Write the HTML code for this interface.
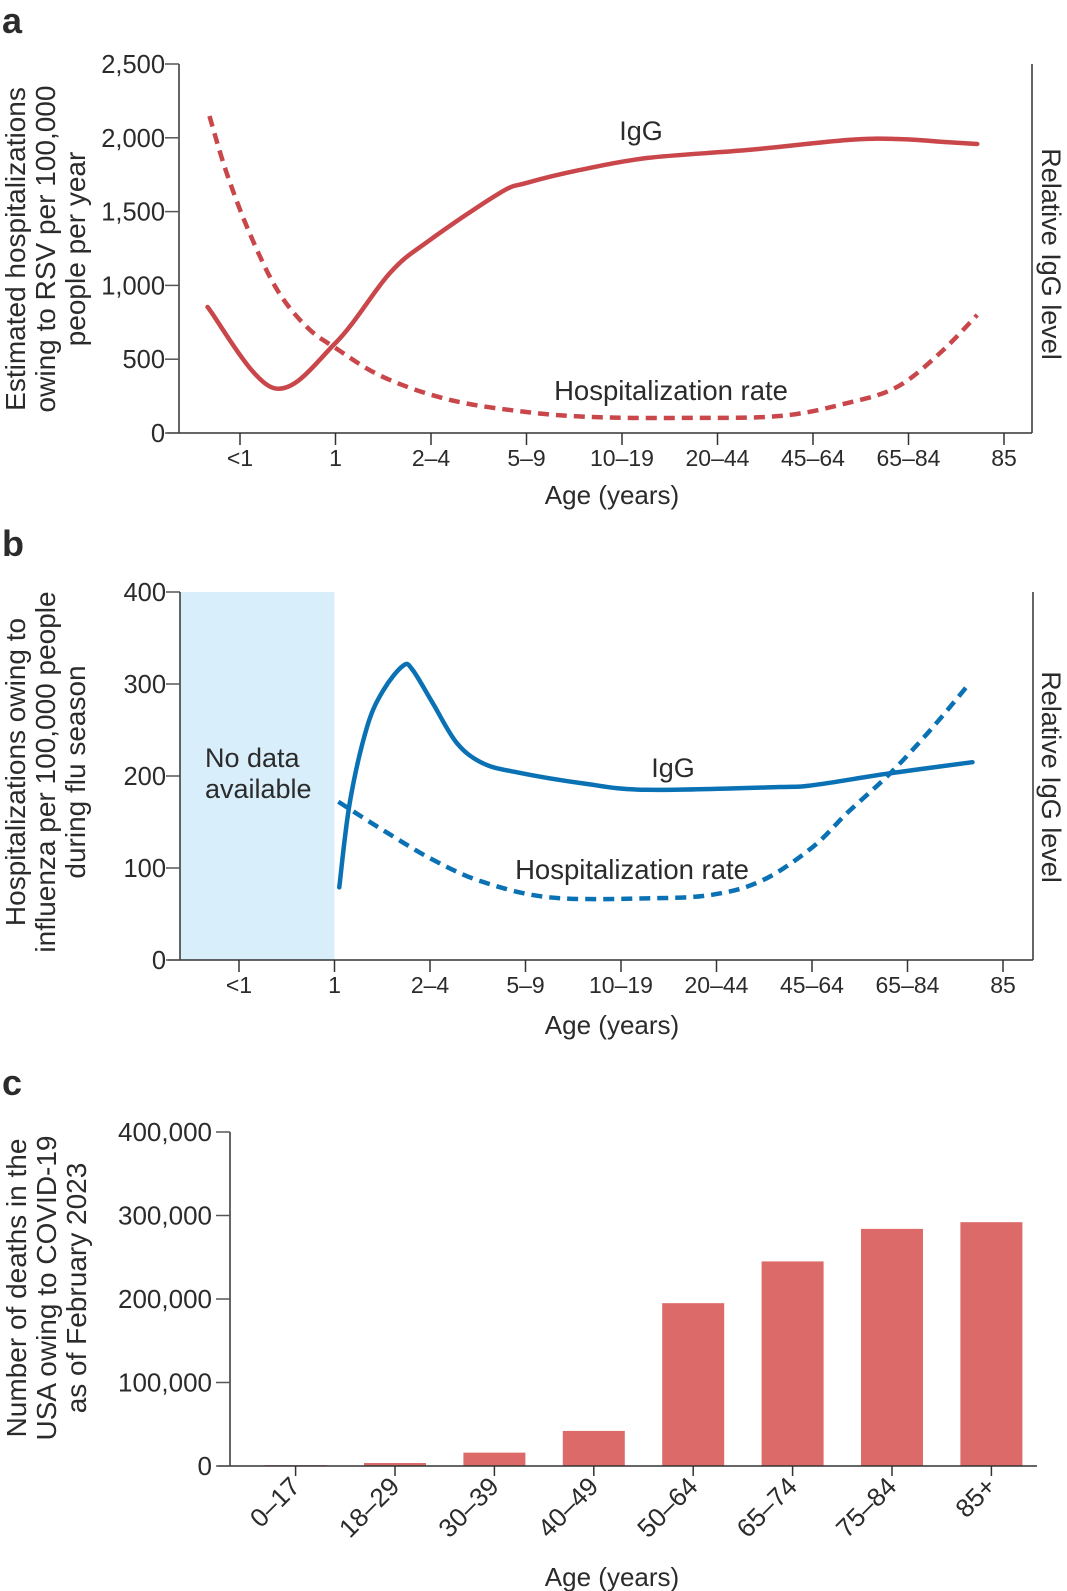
<!DOCTYPE html>
<html><head><meta charset="utf-8">
<style>
html,body{margin:0;padding:0;background:#fff;}
svg{display:block;font-family:"Liberation Sans",sans-serif;}
text{fill:#2b2b2b;}
</style></head>
<body>
<svg id="fig" width="1067" height="1591" viewBox="0 0 1067 1591" xmlns="http://www.w3.org/2000/svg">
<text x="2" y="33" font-size="36" font-weight="bold">a</text>
<text x="2" y="556" font-size="36" font-weight="bold">b</text>
<text x="2" y="1095" font-size="36" font-weight="bold">c</text>
<g id="ga"></g>
<g id="gb"></g>
<g id="gc"></g>
</svg>
<script>
// shared age categories (panels a, b)
const ageCats = ["<1","1","2–4","5–9","10–19","20–44","45–64","65–84","85"];
// Panel a (RSV): [age index position, value]
const rsvTicks = [0,500,1000,1500,2000,2500];
const rsvIgG = [[-0.34,854],[0.35,305],[1.0,610],[1.57,1084],[1.99,1308],[2.72,1626],[3.0,1694],[3.56,1782],[4.26,1863],[5.31,1917],[6.36,1985],[6.88,1992],[7.40,1971],[7.72,1958]];
const rsvHosp = [[-0.32,2148],[-0.14,1762],[0.10,1355],[0.39,969],[0.70,718],[1.0,576],[1.5,379],[2.2,224],[3.0,142],[3.70,108],[4.61,102],[5.65,115],[6.36,203],[6.88,312],[7.33,542],[7.72,800]];
// Panel b (influenza)
const fluTicks = [0,100,200,300,400];
const fluIgG = [[1.05,79],[1.16,171],[1.34,253],[1.51,293],[1.72,320],[1.82,315],[2.03,279],[2.28,236],[2.55,214],[2.91,204],[3.60,192],[4.27,185],[5.66,188],[6.01,190],[6.82,203],[7.68,215]];
const fluHosp = [[1.04,172],[1.51,141],[2.03,109],[2.55,85],[3.26,68],[4.27,67],[4.96,71],[5.49,87],[6.01,123],[6.37,160],[6.82,203],[7.24,250],[7.62,297]];
// Panel c (COVID-19 deaths)
const covidCats = ["0–17","18–29","30–39","40–49","50–64","65–74","75–84","85+"];
const covidDeaths = [1000,3600,16000,42000,195000,245000,284000,292000];
const covidTicks = [0,100000,200000,300000,400000];
const covidTickLabels = ["0","100,000","200,000","300,000","400,000"];

const NS="http://www.w3.org/2000/svg";
function mk(parent,tag,attrs,txt){const e=document.createElementNS(NS,tag);for(const k in attrs)e.setAttribute(k,attrs[k]);if(txt!==undefined)e.textContent=txt;parent.appendChild(e);return e;}
function smooth(pts){
  let d="M"+pts[0][0]+","+pts[0][1];
  for(let i=0;i<pts.length-1;i++){
    const p0=pts[Math.max(0,i-1)],p1=pts[i],p2=pts[i+1],p3=pts[Math.min(pts.length-1,i+2)];
    const c1=[p1[0]+(p2[0]-p0[0])/6,p1[1]+(p2[1]-p0[1])/6];
    const c2=[p2[0]-(p3[0]-p1[0])/6,p2[1]-(p3[1]-p1[1])/6];
    d+="C"+c1[0]+","+c1[1]+" "+c2[0]+","+c2[1]+" "+p2[0]+","+p2[1];
  }
  return d;
}
function rotText(g,x,y,lines,rot,name,fs){
  fs=fs||28;
  const t=mk(g,"text",{transform:`translate(${x},${y}) rotate(${rot})`,"text-anchor":"middle","font-size":fs});
  
  
  lines.forEach((l,i)=>{mk(t,"tspan",{x:0,dy:i===0?-(lines.length-1)*15+9:30},l);});
}
function linePanel(g,cfg){
  const {x0,x1,y0,yTop,vmax,t0,tStep,ticks,tickFmt,color,igg,hosp,prefix}=cfg;
  const X=t=>t0+t*tStep, Y=v=>y0-(v/vmax)*(y0-yTop);
  if(cfg.shade){const r=mk(g,"rect",{x:x0,y:yTop,width:X(1)-x0,height:y0-yTop,fill:"#d9eefb"});
    }
  let a=mk(g,"line",{x1:x0,y1:yTop,x2:x0,y2:y0,stroke:"#333","stroke-width":1.5});
  
  a=mk(g,"line",{x1:x0-12,y1:y0,x2:x1,y2:y0,stroke:"#333","stroke-width":1.5});
  
  a=mk(g,"line",{x1:x1,y1:yTop,x2:x1,y2:y0,stroke:"#333","stroke-width":1.5});
  
  ticks.forEach(v=>{
    mk(g,"line",{x1:x0-14,y1:Y(v),x2:x0,y2:Y(v),stroke:"#555","stroke-width":1.5});
    const t=mk(g,"text",{x:x0-14,y:Y(v)+9,"text-anchor":"end","font-size":"25.5"},tickFmt(v));
    
  });
  ageCats.forEach((c,i)=>{
    mk(g,"line",{x1:X(i),y1:y0,x2:X(i),y2:y0+12,stroke:"#333","stroke-width":1.5});
    const t=mk(g,"text",{x:X(i),y:y0+33,"text-anchor":"middle","font-size":"23"},c);
    
  });
  let p=mk(g,"path",{d:smooth(hosp.map(q=>[X(q[0]),Y(q[1])])),fill:"none",stroke:color,"stroke-width":4.5,"stroke-dasharray":"11,7"});
  
  p=mk(g,"path",{d:smooth(igg.map(q=>[X(q[0]),Y(q[1])])),fill:"none",stroke:color,"stroke-width":4.5,"stroke-linecap":"round"});
  
}
const fmt=v=>v.toLocaleString("en-US");
// Panel a
const ga=document.getElementById("ga");
linePanel(ga,{x0:179,x1:1032,y0:433,yTop:64,vmax:2500,t0:240,tStep:95.5,ticks:rsvTicks,tickFmt:fmt,color:"#c9474a",igg:rsvIgG,hosp:rsvHosp,prefix:"rsv"});
let t=mk(ga,"text",{x:641,y:140,"text-anchor":"middle","font-size":"27"},"IgG");

t=mk(ga,"text",{x:671,y:400,"text-anchor":"middle","font-size":"27.5"},"Hospitalization rate");

t=mk(ga,"text",{x:612,y:504,"text-anchor":"middle","font-size":"26"},"Age (years)");

rotText(ga,46,249,["Estimated hospitalizations","owing to RSV per 100,000","people per year"],-90,"rsv-y-axis-title");
rotText(ga,1051,254,["Relative IgG level"],90,"rsv-right-axis-title",27);
// Panel b
const gb=document.getElementById("gb");
linePanel(gb,{x0:180,x1:1033,y0:960,yTop:592,vmax:400,t0:239,tStep:95.5,ticks:fluTicks,tickFmt:fmt,color:"#0a72b4",igg:fluIgG,hosp:fluHosp,prefix:"flu",shade:true});
t=mk(gb,"text",{x:205,y:767,"font-size":"27"},"No data");

t=mk(gb,"text",{x:205,y:798,"font-size":"27"},"available");

t=mk(gb,"text",{x:673,y:777,"text-anchor":"middle","font-size":"27"},"IgG");

t=mk(gb,"text",{x:632,y:879,"text-anchor":"middle","font-size":"27.5"},"Hospitalization rate");

t=mk(gb,"text",{x:612,y:1034,"text-anchor":"middle","font-size":"26"},"Age (years)");

rotText(gb,46,772,["Hospitalizations owing to","influenza per 100,000 people","during flu season"],-90,"flu-y-axis-title");
rotText(gb,1051,777,["Relative IgG level"],90,"flu-right-axis-title",27);
// Panel c
const gc=document.getElementById("gc");
(function(){
  const x0=230,x1=1037,y0=1466,yTop=1132,vmax=400000,c0=295.6,step=99.4,bw=62;
  const X=i=>c0+i*step, Y=v=>y0-(v/vmax)*(y0-yTop);
  covidCats.forEach((c,i)=>{
    const h=y0-Y(covidDeaths[i]);
    const r=mk(gc,"rect",{x:X(i)-bw/2,y:Y(covidDeaths[i]),width:bw,height:h,fill:"#dc6a69"});
    
    
    mk(gc,"line",{x1:X(i),y1:y0,x2:X(i),y2:y0+10,stroke:"#333","stroke-width":1.5});
    const t=mk(gc,"text",{transform:`translate(${X(i)+6},${y0+22}) rotate(-45)`,"text-anchor":"end","font-size":"26"},c);
    
    
  });
  let a=mk(gc,"line",{x1:x0,y1:yTop,x2:x0,y2:y0,stroke:"#333","stroke-width":1.5});
  
  a=mk(gc,"line",{x1:x0-12,y1:y0,x2:x1,y2:y0,stroke:"#333","stroke-width":1.5});
  
  covidTicks.forEach((v,i)=>{
    mk(gc,"line",{x1:x0-14,y1:Y(v),x2:x0,y2:Y(v),stroke:"#555","stroke-width":1.5});
    const t=mk(gc,"text",{x:x0-18,y:Y(v)+9,"text-anchor":"end","font-size":"26"},covidTickLabels[i]);
    
    
  });
})();
t=mk(gc,"text",{x:612,y:1586,"text-anchor":"middle","font-size":"26"},"Age (years)");

rotText(gc,47,1288,["Number of deaths in the","USA owing to COVID-19","as of February 2023"],-90,"covid-y-axis-title");
</script>
</body></html>
